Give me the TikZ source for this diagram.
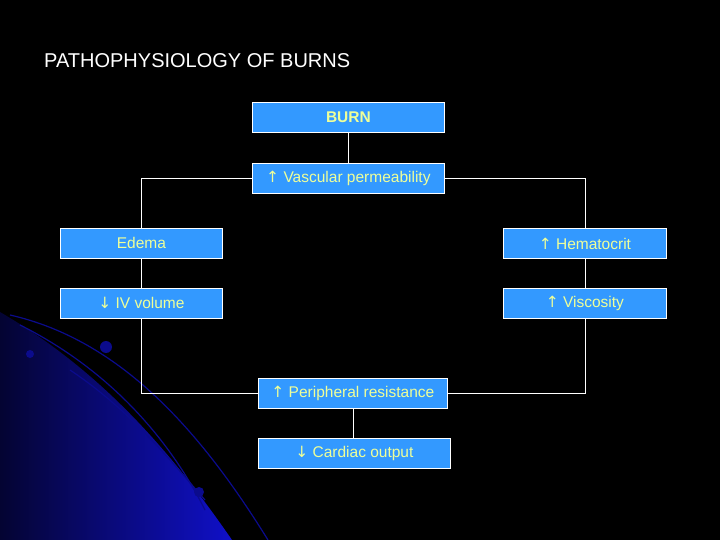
\documentclass[tikz,border=0pt]{standalone}
\usepackage{fontspec}
\setmainfont{Liberation Sans}
\newfontfamily\djv{DejaVu Sans}
\newcommand{\up}{{\djv ↑}}
\newcommand{\dn}{{\djv ↓}}
\definecolor{boxblue}{HTML}{3399FF}
\definecolor{txtyel}{HTML}{EEFF99}
\definecolor{decoblue}{HTML}{1010C8}
\begin{document}
\begin{tikzpicture}[x=1pt,y=-1pt,
  bx/.style={draw=white,line width=0.8pt,fill=boxblue,text=txtyel,font=\fontsize{15.5}{18}\selectfont,inner sep=0pt,anchor=north west},
  ln/.style={draw=white,line width=0.8pt}]
\fill[black] (0,0) rectangle (720,540);
\useasboundingbox (0,0) rectangle (720,540);
% decoration
\shade[left color=decoblue!25!black, right color=decoblue] (0,312) .. controls (100,370) and (170,450) .. (232,540) -- (0,540) -- cycle;
\draw[decoblue!70!black,line width=1.2pt] (10,315) .. controls (120,340) and (200,430) .. (268,540);
\draw[decoblue!70!black,line width=1.2pt] (20,325) .. controls (110,370) and (170,440) .. (205,510);
\draw[decoblue!70!black,line width=1.2pt] (70,370) .. controls (130,410) and (170,460) .. (205,500);
\fill[decoblue!70!black] (106,347) circle (6);
\fill[decoblue!70!black] (30,354) circle (4);
\fill[decoblue!70!black] (199,492) circle (5);
% title
\node[anchor=west,text=white,font=\fontsize{20}{24}\selectfont,inner sep=0pt] (title) at (44,61) {PATHOPHYSIOLOGY OF BURNS};
% boxes
\node[bx,minimum width=192pt,minimum height=30pt] (burn) at (252,102) {\textbf{BURN}};
\node[bx,minimum width=192pt,minimum height=30pt] (vasc) at (252,163) {\up\ Vascular permeability};
\node[bx,minimum width=162pt,minimum height=30pt] (edema) at (60,228) {Edema};
\node[bx,minimum width=163pt,minimum height=30pt] (hema) at (503,228) {\up\ Hematocrit};
\node[bx,minimum width=162pt,minimum height=30pt] (ivv) at (60,288) {\dn\ IV volume};
\node[bx,minimum width=163pt,minimum height=30pt] (visc) at (503,288) {\up\ Viscosity};
\node[bx,minimum width=189pt,minimum height=30pt] (peri) at (258,378) {\up\ Peripheral resistance};
\node[bx,minimum width=192pt,minimum height=30pt] (card) at (258,438) {\dn\ Cardiac output};
% connectors
\draw[ln] (burn.south) -- (burn.south |- vasc.north);
\draw[ln] (vasc.west) -| (edema.north);
\draw[ln] (vasc.east) -| (hema.north);
\draw[ln] (edema.south) -- (ivv.north);
\draw[ln] (hema.south) -- (visc.north);
\draw[ln] (ivv.south) |- (peri.west);
\draw[ln] (visc.south) |- (peri.east);
\draw[ln] (peri.south) -- (card.north -| peri.south);
\end{tikzpicture}
\end{document}
